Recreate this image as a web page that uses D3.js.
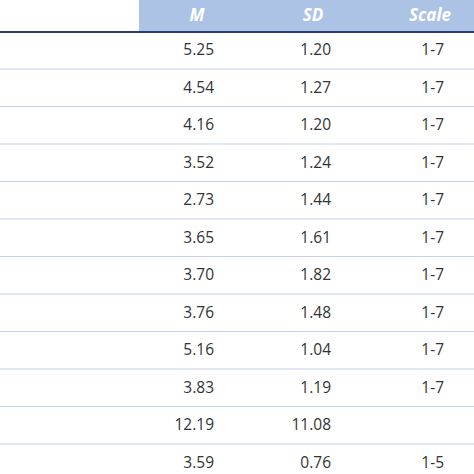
<!DOCTYPE html><html><head><meta charset="utf-8"><script src="https://d3js.org/d3.v7.min.js"></script>
<style>body{margin:0;background:#fff}</style></head><body><svg id="c" width="474" height="474"></svg><script>
const headers=["M","SD","Scale"];
const means=["5.25","4.54","4.16","3.52","2.73","3.65","3.70","3.76","5.16","3.83","12.19","3.59"];
const sds=["1.20","1.27","1.20","1.24","1.44","1.61","1.82","1.48","1.04","1.19","11.08","0.76"];
const scales=["1-7","1-7","1-7","1-7","1-7","1-7","1-7","1-7","1-7","1-7","","1-5"];
const svg=d3.select("#c");
const y=d3.scaleBand().domain(d3.range(means.length)).range([31.5,481.5]);
const colRight=[214,331,444], headCenter=[197,313,430];
svg.append("rect").attr("x",139).attr("y",0).attr("width",335).attr("height",31).attr("fill","#adc3e6");
svg.selectAll("text.h").data(headers).join("text").attr("x",(d,i)=>headCenter[i]).attr("y",21)
 .attr("text-anchor","middle").attr("fill","#fff").attr("font-family","Open Sans").attr("font-weight","bold").attr("font-style","italic").attr("font-size",17).text(d=>d);
svg.append("line").attr("x1",0).attr("x2",474).attr("y1",32).attr("y2",32).attr("stroke","#2b3a78").attr("stroke-width",2);
svg.selectAll("line.s").data(d3.range(means.length-1)).join("line").attr("x1",0).attr("x2",474)
 .attr("y1",d=>y(d)+y.bandwidth()).attr("y2",d=>y(d)+y.bandwidth()).attr("stroke","#c3d1ea").attr("stroke-width",1.2);
[means,sds,scales].forEach((arr,c)=>{
 svg.selectAll("text.c"+c).data(arr).join("text").attr("x",colRight[c]).attr("y",(d,i)=>y(i)+y.bandwidth()/2+5)
 .attr("text-anchor","end").attr("fill","#333").attr("font-family","Open Sans").attr("font-size",15.5).text(d=>d);
});
</script></body></html>
